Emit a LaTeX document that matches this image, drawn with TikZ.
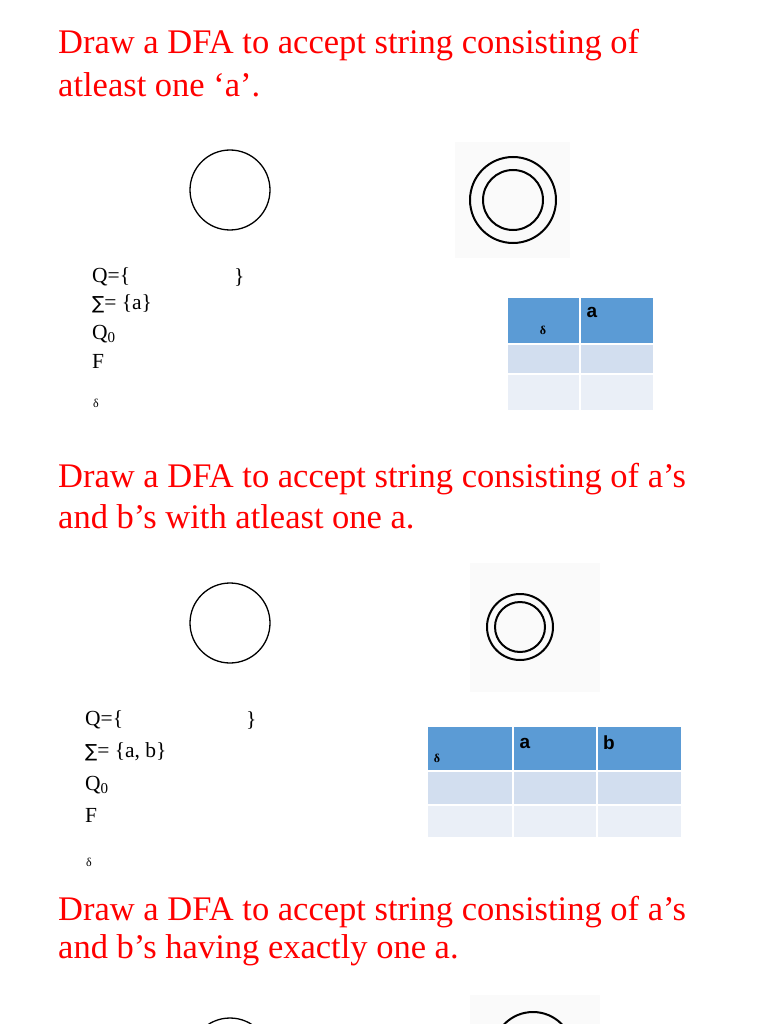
\documentclass[tikz,border=0pt]{standalone}
\usepackage{fontspec}
\setmainfont{Liberation Serif}
\newfontfamily\symf{DejaVu Sans}
\newfontfamily\hdr{Liberation Sans}
\definecolor{hblue}{HTML}{5B9BD5}
\definecolor{r1}{HTML}{D2DEEF}
\definecolor{r2}{HTML}{EAEFF7}
\tikzset{
 title/.style={anchor=west,text=red,font=\fontsize{34.5}{34.5}\selectfont,inner sep=0},
 lbl/.style={anchor=west,font=\fontsize{21.5}{21.5}\selectfont,inner sep=0},
 st/.style={circle,draw,line width=1.3pt,inner sep=0},
 dst/.style={circle,draw,line width=2pt,inner sep=0},
 hatch/.style={fill=gray!4},
 th/.style={font=\hdr\bfseries\fontsize{19}{19}\selectfont,inner sep=0}
}
\begin{document}
\begin{tikzpicture}[x=1pt,y=-1pt]
\useasboundingbox[fill=white] (0,0) rectangle (768,1024);
% section 1
\node[title] (t1) at (58,45) {Draw a DFA to accept string consisting of};
\node[title] (t2) at (58,85) {atleast one ‘a’.};
\node[st,minimum size=80pt] (s1) at (230,190) {};
\fill[hatch] (455,142) rectangle (570,258);
\node[dst,minimum size=86pt] (f1) at (513,200) {};
\node[dst,minimum size=60pt] (f1i) at (513,200) {};
\node[lbl] (q1) at (92,277) {Q=\{};
\node[lbl] (q1b) at (234,277) {\}};
\node[lbl] (sg1) at (92,304) {{\symf\fontsize{18}{18}\selectfont∑}= \{a\}};
\node[lbl] (z1) at (92,334) {Q\textsubscript{0}};
\node[lbl] (ff1) at (92,361) {F};
\node[lbl,font=\fontsize{12}{12}\selectfont] (d1) at (93,403) {δ};
\fill[hblue] (508,298) rectangle (653,343);
\fill[r1] (508,345) rectangle (653,373);
\fill[r2] (508,375) rectangle (653,410);
\draw[white,line width=1.5pt] (580,298) -- (580,410);
\node[font=\fontsize{12}{12}\selectfont\bfseries] (dd1) at (543,330) {δ};
\node[th] (a1) at (592,312) {a};
% section 2
\node[title] (t3) at (58,479) {Draw a DFA to accept string consisting of a’s};
\node[title] (t4) at (58,517) {and b’s with atleast one a.};
\node[st,minimum size=80pt] (s2) at (230,623) {};
\fill[hatch] (470,563) rectangle (600,692);
\node[dst,minimum size=66pt] (f2) at (520,627) {};
\node[dst,minimum size=50pt] (f2i) at (520,627) {};
\node[lbl] (q2) at (85,720) {Q=\{};
\node[lbl] (q2b) at (246,720) {\}};
\node[lbl] (sg2) at (85,752) {{\symf\fontsize{18}{18}\selectfont∑}= \{a, b\}};
\node[lbl] (z2) at (85,785) {Q\textsubscript{0}};
\node[lbl] (ff2) at (85,815) {F};
\node[lbl,font=\fontsize{12}{12}\selectfont] (d2) at (86,862) {δ};
\fill[hblue] (428,727) rectangle (681,770);
\fill[r1] (428,772) rectangle (681,804);
\fill[r2] (428,806) rectangle (681,837);
\draw[white,line width=1.5pt] (513,727) -- (513,837) (597,727) -- (597,837);
\node[font=\fontsize{12}{12}\selectfont\bfseries] (dd2) at (437,758) {δ};
\node[th] (a2) at (525,743) {a};
\node[th] (b2) at (609,743) {b};
% section 3
\node[title] (t5) at (58,912) {Draw a DFA to accept string consisting of a’s};
\node[title] (t6) at (58,950) {and b’s having exactly one a.};
\fill[hatch] (470,995) rectangle (600,1030);
\node[st,minimum size=80pt] (s3) at (230,1058) {};
\node[dst,minimum size=80pt] (f3) at (533,1052) {};
\end{tikzpicture}
\end{document}
